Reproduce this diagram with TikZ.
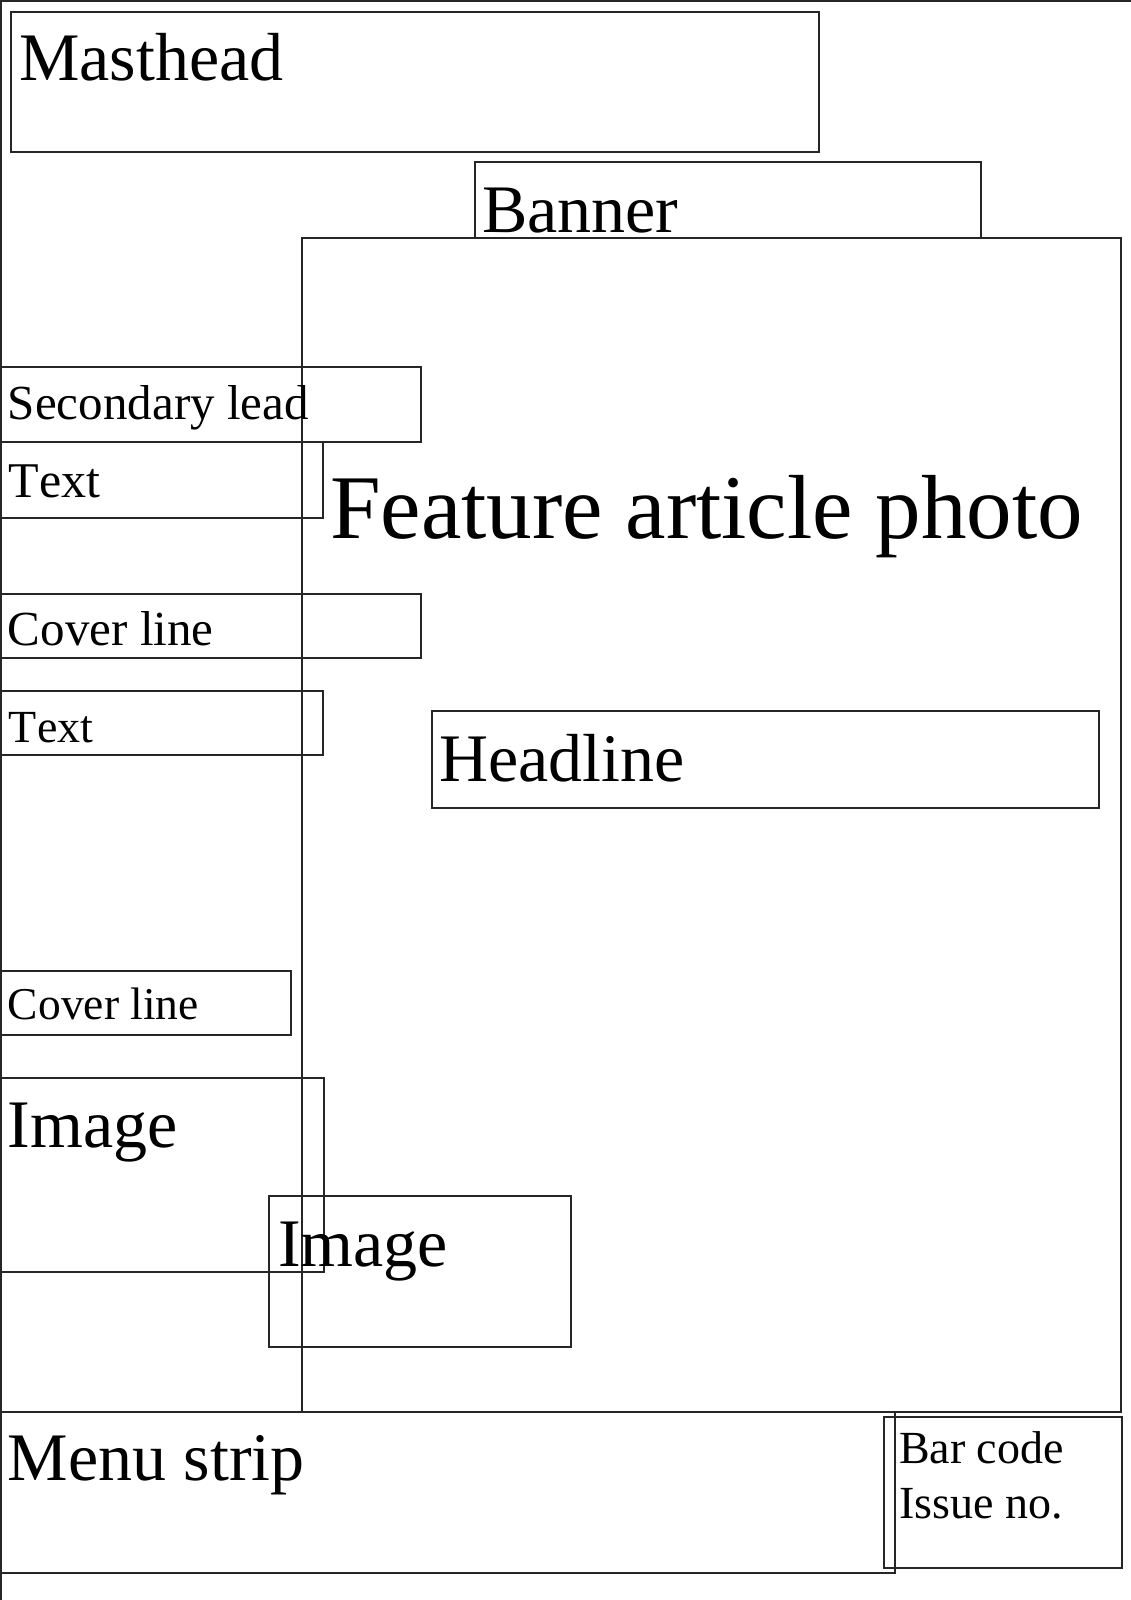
\documentclass[tikz,border=0pt]{standalone}
\usepackage{fontspec}
\setmainfont[Kerning=Off]{Liberation Serif}
\tikzset{
  box/.style={draw=black!85, line width=1.4pt, inner sep=0pt, outer sep=0pt, anchor=north west},
  lbl/.style={inner sep=0pt, outer sep=0pt, anchor=base west, text=black},
  fs/.style={font=\fontsize{#1}{#1}\selectfont}
}
\newcommand{\mybox}[5]{\node[box, minimum width=#4-#2, minimum height=#5-#3] (#1) at (#2,#3) {};}
\begin{document}
\begin{tikzpicture}[x=1pt,y=-1pt]
\useasboundingbox (0,0) rectangle (1131,1600);
% outer frame (top and left edges)
\coordinate (ftl) at (0.8,0.8);
\coordinate (ftr) at (1131,0.8);
\coordinate (fbl) at (0.8,1600);
\draw[line width=1.6pt, black!85] (ftr) -- (ftl) -- (fbl);
% boxes
\mybox{masthead}{11}{12}{819}{152}
\mybox{banner}{475}{162}{981}{238}
\mybox{feature}{302}{238}{1121}{1412}
\mybox{seclead}{0.7}{367}{421}{442}
\mybox{textA}{0.7}{442}{323}{518}
\mybox{coverA}{0.7}{594}{421}{658}
\mybox{textB}{0.7}{691}{323}{755}
\mybox{headline}{432}{711}{1099}{808}
\mybox{coverB}{0.7}{971}{291}{1035}
\mybox{imageA}{0.7}{1078}{324}{1272}
\mybox{imageB}{269}{1196}{571}{1347}
\mybox{menu}{0.7}{1412}{895}{1573}
\mybox{barcode}{884}{1417}{1122}{1568}
% labels
\node[lbl, fs=68] (tmast) at (19,81) {Masthead};
\node[lbl, fs=68] (tbanner) at (482,232) {Banner};
\node[lbl, fs=91] (tfeature) at (330,538) {Feature article photo};
\node[lbl, fs=49] (tseclead) at (8,419) {Secondary lead};
\node[lbl, fs=50] (ttextA) at (9,497) {Text};
\node[lbl, fs=49] (tcoverA) at (8,645) {Cover line};
\node[lbl, fs=46] (ttextB) at (9,742) {Text};
\node[lbl, fs=68] (theadline) at (439,781) {Headline};
\node[lbl, fs=45.5] (tcoverB) at (8,1019) {Cover line};
\node[lbl, fs=68] (timageA) at (8,1147) {Image};
\node[lbl, fs=68] (timageB) at (278,1266) {Image};
\node[lbl, fs=68] (tmenu) at (8,1480) {Menu strip};
\node[lbl, fs=46] (tbar) at (899,1463) {Bar code};
\node[lbl, fs=46] (tissue) at (899,1518) {Issue no.};
\end{tikzpicture}
\end{document}
